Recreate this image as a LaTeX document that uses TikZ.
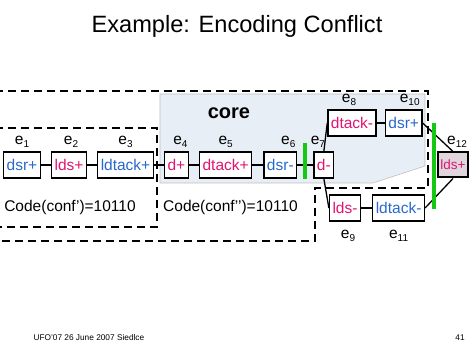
\documentclass[tikz,border=0pt]{standalone}
\usepackage{fontspec}
\setmainfont{Liberation Sans}
\usetikzlibrary{positioning, calc}

\definecolor{sigblue}{RGB}{40,105,205}
\definecolor{sigred}{RGB}{225,20,115}
\definecolor{coreblue}{RGB}{232,238,245}
\definecolor{barcol}{RGB}{20,200,20}
\definecolor{hatch}{RGB}{222,214,220}

\newcommand{\ev}[1]{e\raisebox{-3pt}{\fontsize{10}{10}\selectfont #1}}

\begin{document}
\begin{tikzpicture}[
    x=1pt, y=-1pt,
    node distance=10pt,
    sig/.style={
        rectangle,
        draw=black,
        line width=1.3pt,
        fill=white,
        minimum height=26pt,
        inner xsep=3pt,
        inner ysep=0pt,
        font=\fontsize{15.5}{18}\selectfont
    },
    lbl/.style={font=\fontsize{15.5}{18}\selectfont, inner sep=1pt},
    code/.style={font=\fontsize{15.5}{18}\selectfont, inner sep=0pt},
    link/.style={line width=1.3pt},
    conflict/.style={fill=barcol, minimum width=4pt, inner sep=0pt},
    region/.style={line width=1.8pt, dash pattern=on 8pt off 5pt}
]
\useasboundingbox (0,0) rectangle (474,355);

% title
\node[font=\fontsize{23.6}{28}\selectfont, anchor=base] (title) at (237,33) {Example: Encoding Conflict};

% the core
\draw[fill=coreblue, draw=gray!50, line width=0.6pt]
    (160,94) -- (425,94) -- (425,166) -- (373,183) -- (160,183) -- cycle;
\node[font=\bfseries\fontsize{20}{24}\selectfont] (core) at (229,113) {core};

% dashed regions
\draw[region] (-5,128) -- (157,128) -- (157,227) -- (-5,227);
\draw[region] (-5,91) -- (428,91) -- (428,188) -- (315,188) -- (315,241) -- (-5,241);

% main trace
\node[sig, text=sigblue] (dsrp) at (22,165) {dsr+};
\node[sig, text=sigred, right=of dsrp] (ldsp) {lds+};
\node[sig, text=sigblue, right=of ldsp] (ldtackp) {ldtack+};
\node[sig, text=sigred, right=of ldtackp] (dp) {d+};
\node[sig, text=sigred, right=of dp] (dtackp) {dtack+};
\node[sig, text=sigblue, right=11pt of dtackp] (dsrm) {dsr-};
\node[sig, text=sigred, right=16pt of dsrm] (dm) {d-};

% upper branch
\node[sig, text=sigred] (dtackm) at (352,123) {dtack-};
\node[sig, text=sigblue, right=8pt of dtackm] (dsrq) {dsr+};

% lower branch
\node[sig, text=sigred] (ldsm) at (345,208) {lds-};
\node[sig, text=sigblue, right=11pt of ldsm] (ldtackm) {ldtack-};

% join
\node[sig, text=sigred, fill=hatch, line width=2pt, minimum height=25pt,
      inner xsep=2pt, font=\fontsize{13.5}{16}\selectfont] (ldsq) at (453,165) {lds+};

% event labels
\node[lbl, above=3pt of dsrp] (e1) {\ev{1}};
\node[lbl, above=3pt of ldsp, xshift=2pt] (e2) {\ev{2}};
\node[lbl, above=3pt of ldtackp] (e3) {\ev{3}};
\node[lbl, above=3pt of dp, xshift=4pt] (e4) {\ev{4}};
\node[lbl, above=3pt of dtackp] (e5) {\ev{5}};
\node[lbl, above=3pt of dsrm, xshift=8pt] (e6) {\ev{6}};
\node[lbl, above=3pt of dm, xshift=-6pt] (e7) {\ev{7}};
\node[lbl, above=3pt of dtackm, xshift=-3pt] (e8) {\ev{8}};
\node[lbl, above=3pt of dsrq, xshift=6pt] (e10) {\ev{10}};
\node[lbl, above=3pt of ldsq, xshift=4pt] (e12) {\ev{12}};
\node[lbl, below=7pt of ldsm, xshift=3pt] (e9) {\ev{9}};
\node[lbl, below=7pt of ldtackm] (e11) {\ev{11}};

% codes
\node[code, anchor=base] (code1) at (70,212) {Code(conf')=10110};
\node[code, anchor=base west] (code2) at (163,212) {Code(conf'{}')=10110};

% connectors
\draw[link] (dsrp) -- (ldsp);
\draw[link] (ldsp) -- (ldtackp);
\draw[link] (ldtackp) -- (dp);
\draw[link] (dp) -- (dtackp);
\draw[link] (dtackp) -- (dsrm);
\draw[link] (dsrm) -- (dm);
\draw[link] (dm.north) -- (dtackm.west);
\draw[link] (dm.south) -- (ldsm.west);
\draw[link] (dtackm) -- (dsrq);
\draw[link] (ldsm) -- (ldtackm);
\draw[link] (dsrq.east) -- (ldsq.north);
\draw[link] (ldtackm.east) -- (ldsq.south);

% conflict cuts
\node[conflict, minimum height=36pt] (cut1) at ($($(dsrm.east)!0.5!(dm.west)$)+(0,-4)$) {};
\node[conflict, minimum height=86pt] (cut2) at (434,166) {};

% footer
\node[font=\fontsize{8.3}{10}\selectfont, anchor=base west] (foot) at (30,341) {UFO'07 26 June 2007 Siedlce};
\node[font=\fontsize{8.3}{10}\selectfont, anchor=base] (page) at (460,341) {41};

\end{tikzpicture}
\end{document}
